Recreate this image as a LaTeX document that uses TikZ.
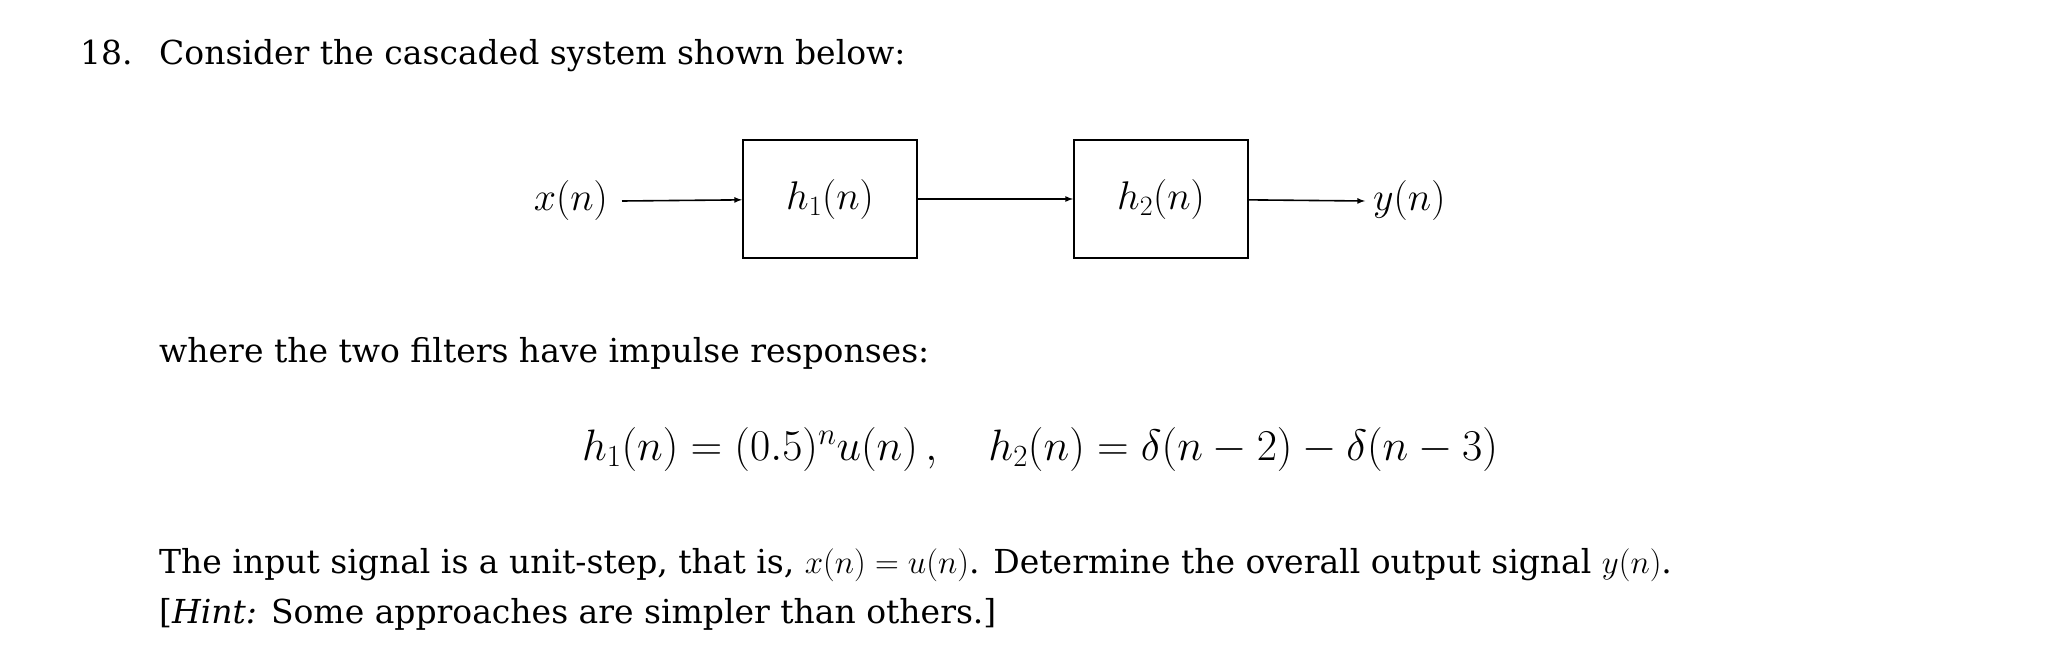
\documentclass[tikz,border=0pt]{standalone}
\usepackage{fix-cm}
\usepackage{amsmath}
\usepackage{fontspec}
\setmainfont{DejaVu Serif}
\begin{document}
\begin{tikzpicture}[x=1pt,y=-1pt,
  txt/.style={anchor=base west,inner sep=0pt,font=\fontsize{33}{40}\selectfont},
  blk/.style={draw,line width=2pt,minimum width=174pt,minimum height=118pt,inner sep=0pt,font=\fontsize{40}{48}\selectfont},
  sig/.style={inner sep=0pt,font=\fontsize{40}{48}\selectfont},
  arr/.style={-latex,line width=1.6pt}]
\useasboundingbox (0,0) rectangle (2046,661);
\node[txt] (num) at (80,65) {18.};
\node[txt] (t1) at (159,65) {Consider the cascaded system shown below:};
\node[blk] (b1) at (830,199) {$h_1(n)$};
\node[blk] (b2) at (1161,199) {$h_2(n)$};
\node[sig,anchor=east] (x) at (608,201) {$x(n)$};
\node[sig,anchor=west] (y) at (1373,201) {$y(n)$};
\draw[arr] ([xshift=14pt]x.east) -- (b1);
\draw[arr] (b1) -- (b2);
\draw[arr] (b2) -- ([xshift=-8pt]y.west);
\node[txt] (t2) at (159,362) {where the two filters have impulse responses:};
\node[inner sep=0pt,anchor=base,font=\fontsize{44}{52}\selectfont] (eq) at (1040,460) {$h_1(n)=(0.5)^n u(n)\,,\quad h_2(n)=\delta(n-2)-\delta(n-3)$};
\node[txt] (t3) at (159,573) {The input signal is a unit-step, that is, $x(n)=u(n)$. Determine the overall output signal $y(n)$.};
\node[txt] (t4) at (159,623) {[\textit{Hint:} Some approaches are simpler than others.]};
\end{tikzpicture}
\end{document}
